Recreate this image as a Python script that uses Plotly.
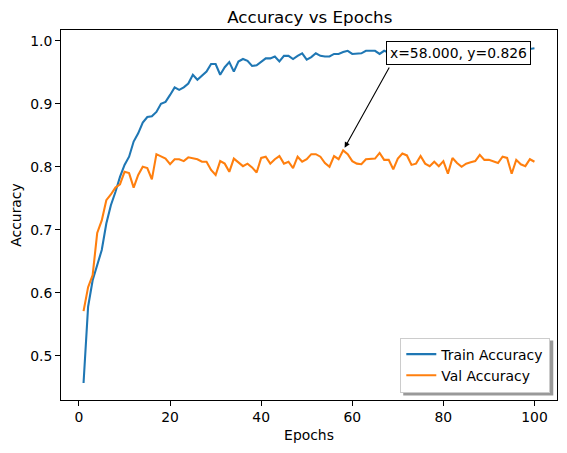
import plotly.graph_objects as go

epochs = list(range(1, 101))

train_acc = [
    0.457, 0.578, 0.620, 0.644, 0.668, 0.710, 0.739, 0.760, 0.784, 0.803,
    0.816, 0.840, 0.853, 0.870, 0.879, 0.880, 0.887, 0.900, 0.903, 0.914,
    0.926, 0.922, 0.926, 0.932, 0.946, 0.938, 0.944, 0.951, 0.963, 0.963,
    0.946, 0.958, 0.966, 0.951, 0.967, 0.971, 0.968, 0.960, 0.961, 0.967,
    0.972, 0.972, 0.975, 0.967, 0.976, 0.976, 0.971, 0.976, 0.980, 0.970,
    0.974, 0.980, 0.976, 0.975, 0.975, 0.979, 0.979, 0.982, 0.984, 0.979,
    0.979, 0.980, 0.984, 0.984, 0.984, 0.979, 0.984, 0.981, 0.985, 0.983,
    0.986, 0.984, 0.982, 0.987, 0.985, 0.983, 0.986, 0.988, 0.984, 0.985,
    0.987, 0.983, 0.986, 0.988, 0.985, 0.984, 0.987, 0.989, 0.986, 0.984,
    0.987, 0.988, 0.985, 0.989, 0.987, 0.986, 0.988, 0.990, 0.987, 0.988,
]

val_acc = [
    0.571, 0.609, 0.628, 0.695, 0.715, 0.747, 0.756, 0.767, 0.772, 0.792,
    0.790, 0.767, 0.787, 0.800, 0.798, 0.780, 0.820, 0.816, 0.813, 0.804,
    0.812, 0.812, 0.809, 0.815, 0.813, 0.812, 0.808, 0.808, 0.795, 0.787,
    0.809, 0.805, 0.792, 0.813, 0.807, 0.801, 0.805, 0.799, 0.791, 0.814,
    0.816, 0.805, 0.812, 0.817, 0.805, 0.808, 0.798, 0.816, 0.808, 0.812,
    0.820, 0.820, 0.816, 0.806, 0.800, 0.817, 0.812, 0.826, 0.820, 0.809,
    0.805, 0.804, 0.812, 0.813, 0.813, 0.822, 0.811, 0.811, 0.796, 0.813,
    0.821, 0.818, 0.803, 0.805, 0.817, 0.805, 0.801, 0.808, 0.801, 0.809,
    0.789, 0.814, 0.806, 0.800, 0.805, 0.807, 0.809, 0.819, 0.811, 0.811,
    0.809, 0.806, 0.816, 0.814, 0.789, 0.811, 0.804, 0.801, 0.812, 0.808,
]

x_ticks = [0, 20, 40, 60, 80, 100]
y_ticks = [0.5, 0.6, 0.7, 0.8, 0.9, 1.0]

peak_epoch = 58
peak_val = 0.826
label_text = f"x={peak_epoch:.3f}, y={peak_val:.3f}"

FONT = "DejaVu Sans"
FS = 13.9

fig = go.Figure()
fig.add_trace(go.Scatter(x=epochs, y=train_acc, mode="lines", name="Train Accuracy",
                         line=dict(color="#1f77b4", width=2.08)))
fig.add_trace(go.Scatter(x=epochs, y=val_acc, mode="lines", name="Val Accuracy",
                         line=dict(color="#ff7f0e", width=2.08)))

axis_common = dict(
    showline=True, mirror=True, linecolor="black", linewidth=1.1,
    ticks="outside", ticklen=4.9, tickwidth=1.1, tickcolor="black",
    showgrid=False, zeroline=False, automargin=False,
    tickfont=dict(family=FONT, size=FS, color="black"),
)

fig.update_layout(
    width=567, height=453,
    margin=dict(l=61, r=10, t=30, b=53),
    paper_bgcolor="white", plot_bgcolor="white",
    font=dict(family=FONT, size=FS, color="black"),
    title=dict(text="Accuracy vs Epochs", x=0.5463, xanchor="center",
               y=1 - 17 / 453, yanchor="middle",
               font=dict(family=FONT, size=16.7, color="black")),
    xaxis=dict(range=[-3.95, 104.95], tickvals=x_ticks, ticklabelstandoff=-1,
               title=dict(text="Epochs", standoff=6, font=dict(family=FONT, size=FS)),
               **axis_common),
    yaxis=dict(range=[0.430, 1.017], tickvals=y_ticks, tickformat=".1f",
               title=dict(text="Accuracy", standoff=5, font=dict(family=FONT, size=FS)),
               **axis_common),
    legend=dict(x=0.9865, y=0.020, xanchor="right", yanchor="bottom",
                bgcolor="white", bordercolor="#cccccc", borderwidth=1,
                font=dict(family=FONT, size=FS, color="black"),
                tracegroupgap=0),
    showlegend=True,
)

# legend shadow
fig.add_shape(type="rect", xref="paper", yref="paper",
              x0=0.690, x1=0.9925, y0=0.0122, y1=0.1607,
              fillcolor="#999999", line=dict(width=0), layer="above")

# annotation box
fig.add_annotation(x=83.3, y=0.981, xref="x", yref="y", text=label_text,
                   showarrow=False, xanchor="center", yanchor="middle",
                   bgcolor="white", bordercolor="black", borderwidth=1, borderpad=3,
                   font=dict(family=FONT, size=FS, color="black"))
# arrow
fig.add_annotation(x=peak_epoch, y=peak_val, xref="x", yref="y",
                   ax=68.3, ay=0.960, axref="x", ayref="y", text="",
                   showarrow=True, arrowhead=2, arrowsize=1, arrowwidth=1.1,
                   arrowcolor="black", standoff=3)

fig.write_html("out.html", config={"displayModeBar": False},
               post_script="document.body.style.margin='0';")
